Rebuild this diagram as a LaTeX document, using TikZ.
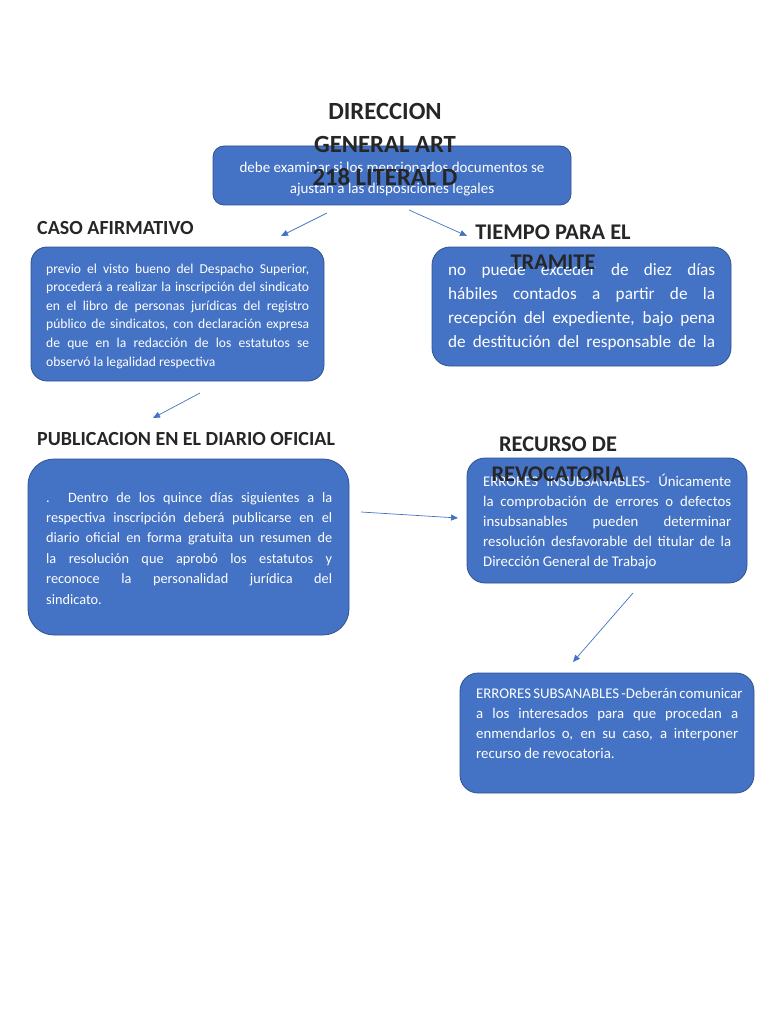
\documentclass[tikz,border=0pt]{standalone}
\usepackage{fontspec}
\setmainfont{Carlito}
\usetikzlibrary{arrows.meta}

\definecolor{azul}{HTML}{4472C4}
\definecolor{borde}{HTML}{2F528F}
\definecolor{gris}{HTML}{262626}

% one justified line of a box text
\newcommand{\jl}[1]{\makebox[\linewidth][s]{#1}}

\begin{document}
\begin{tikzpicture}[x=1pt, y=-1pt,
		caja/.style={draw=borde, fill=azul, line width=0.8pt, rounded corners=16pt},
		texto/.style={text=white, anchor=base west, inner sep=0pt},
		titulo/.style={text=gris, font=\bfseries, inner sep=0pt},
		flecha/.style={azul, line width=0.7pt, -{Triangle[length=7pt,width=6pt]}}]
		\useasboundingbox (0,0) rectangle (768,1024);

		% Draw boxes
		\draw[caja, rounded corners=11pt] (213,146) rectangle (571,205);
		\draw[caja] (31,247) rectangle (324,381);
		\draw[caja, rounded corners=18pt] (432,247) rectangle (731,366);
		\draw[caja, rounded corners=26pt] (28,459) rectangle (349,635);
		\draw[caja, rounded corners=18pt] (467,458) rectangle (747,583);
		\draw[caja, rounded corners=18pt] (460,673) rectangle (754,793);

		% Box texts
		\node[texto, anchor=base, font=\fontsize{15}{21}\selectfont] (examinar) at (392,173)
			{\parbox[t]{350pt}{\centering debe examinar si los mencionados documentos se\\ ajustan a las disposiciones legales}};
		\node[texto, font=\fontsize{13.6}{18.6}\selectfont] (afirmativo) at (46,273)
			{\parbox[t]{263pt}{\jl{previo el visto bueno del Despacho Superior,}\\
				\jl{procederá a realizar la inscripción del sindicato}\\
				\jl{en el libro de personas jurídicas del registro}\\
				\jl{público de sindicatos, con declaración expresa}\\
				\jl{de que en la redacción de los estatutos se}\\
				observó la legalidad respectiva}};
		\node[texto, font=\fontsize{17.2}{24}\selectfont] (tiempo) at (448,275)
			{\parbox[t]{267pt}{\jl{no puede exceder de diez días}\\
				\jl{hábiles contados a partir de la}\\
				\jl{recepción del expediente, bajo pena}\\
				\jl{de destitución del responsable de la}}};
		\node[texto, font=\fontsize{14.3}{20.4}\selectfont] (publicacion) at (46,502)
			{\parbox[t]{286pt}{\jl{. Dentro de los quince días siguientes a la}\\
				\jl{respectiva inscripción deberá publicarse en el}\\
				\jl{diario oficial en forma gratuita un resumen de}\\
				\jl{la resolución que aprobó los estatutos y}\\
				\jl{reconoce la personalidad jurídica del}\\
				sindicato.}};
		\node[texto, font=\fontsize{14.8}{20.2}\selectfont] (insubsanables) at (483,486)
			{\parbox[t]{248pt}{\jl{ERRORES INSUBSANABLES- Únicamente}\\
				\jl{la comprobación de errores o defectos}\\
				\jl{insubsanables pueden determinar}\\
				\jl{resolución desfavorable del titular de la}\\
				Dirección General de Trabajo}};
		\node[texto, font=\fontsize{14.8}{20.3}\selectfont] (subsanables) at (476,698)
			{\parbox[t]{262pt}{\jl{ERRORES SUBSANABLES -Deberán comunicar}\\
				\jl{a los interesados para que procedan a}\\
				\jl{enmendarlos o, en su caso, a interponer}\\
				recurso de revocatoria.}};

		% Titles
		\node[titulo, anchor=base, font=\fontsize{24.7}{33}\selectfont\bfseries] (direccion) at (385,120)
			{\parbox[t]{200pt}{\centering DIRECCION\\ GENERAL ART\\ 218 LITERAL D}};
		\node[titulo, anchor=base west, font=\fontsize{20}{24}\selectfont\bfseries] (caso) at (37,234) {CASO AFIRMATIVO};
		\node[titulo, anchor=base, font=\fontsize{22.4}{30}\selectfont\bfseries] (plazo) at (553,240)
			{\parbox[t]{200pt}{\centering TIEMPO PARA EL\\ TRAMITE}};
		\node[titulo, anchor=base west, font=\fontsize{20}{24}\selectfont\bfseries] (diario) at (37,445) {PUBLICACION EN EL DIARIO OFICIAL};
		\node[titulo, anchor=base, font=\fontsize{22.4}{30}\selectfont\bfseries] (recurso) at (558,451)
			{\parbox[t]{200pt}{\centering RECURSO DE\\ REVOCATORIA}};

		% Arrow ends
		\coordinate (a1) at (327,213); \coordinate (b1) at (281,236);
		\coordinate (a2) at (409,210); \coordinate (b2) at (467,236);
		\coordinate (a3) at (200,393); \coordinate (b3) at (153,418);
		\coordinate (a4) at (361,512); \coordinate (b4) at (458,518);
		\coordinate (a5) at (633,593); \coordinate (b5) at (573,662);

		% Draw arrows
		\foreach \i in {1,...,5} {
				\draw[flecha] (a\i) -- (b\i);
			}
	\end{tikzpicture}
\end{document}
